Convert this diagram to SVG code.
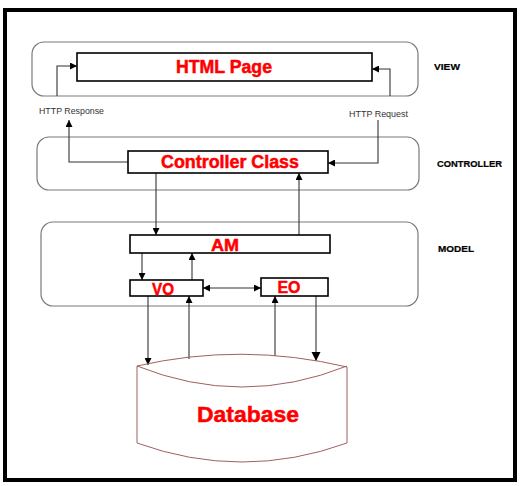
<svg xmlns="http://www.w3.org/2000/svg" width="521" height="486" viewBox="0 0 521 486">
<style>
.layer{fill:#fff;stroke:#7a7a7a;stroke-width:1.2}
.box{fill:#fff;stroke:#000;stroke-width:1.6}
.red{font-family:"Liberation Sans",Arial,sans-serif;font-weight:bold;fill:#ff0000;stroke:#ff0000;stroke-width:0.5;text-anchor:middle}
.lbl{font-family:"Liberation Sans",Arial,sans-serif;font-weight:bold;font-size:9.5px;fill:#000;stroke:#000;stroke-width:0.2}
.small{font-family:"Liberation Sans",Arial,sans-serif;font-size:9px;fill:#333}
.c{fill:none;stroke:#333;stroke-width:1.1}
</style>
<defs>
<marker id="ah" viewBox="0 0 10 10" refX="10" refY="5" markerUnits="userSpaceOnUse" markerWidth="7" markerHeight="7" orient="auto-start-reverse"><path d="M0,0 L10,5 L0,10 z" fill="#000"/></marker>
<marker id="ahb" viewBox="0 0 10 10" refX="10" refY="5" markerUnits="userSpaceOnUse" markerWidth="9" markerHeight="11" orient="auto"><path d="M0,0 L10,5 L0,10 z" fill="#000"/></marker>
</defs>
<rect x="5" y="10" width="510" height="470" fill="#fff" stroke="#000" stroke-width="4"/>

<g id="view">
<rect class="layer" x="32" y="42" width="386" height="54" rx="12"/>
<text class="lbl" x="434" y="70" textLength="26" lengthAdjust="spacingAndGlyphs">VIEW</text>
</g>
<g id="controller">
<rect class="layer" x="37" y="137" width="382" height="53" rx="12"/>
<text class="lbl" x="437" y="167" textLength="65" lengthAdjust="spacingAndGlyphs">CONTROLLER</text>
</g>
<g id="model">
<rect class="layer" x="41" y="222" width="377" height="84" rx="12"/>
<text class="lbl" x="438" y="252" textLength="36" lengthAdjust="spacingAndGlyphs">MODEL</text>
</g>

<g id="connectors">
<path class="c" d="M128,162 H69 V120" marker-end="url(#ah)"/>
<path class="c" d="M57,96 V66 H77" marker-end="url(#ah)"/>
<path class="c" d="M390,96 V69 H372" marker-end="url(#ah)"/>
<path class="c" d="M378,120 V163 H328" marker-end="url(#ah)"/>
<path class="c" d="M156,173 V235" marker-end="url(#ah)"/>
<path class="c" d="M299,235 V173" marker-end="url(#ah)"/>
<path class="c" d="M142,253 V280" marker-end="url(#ah)"/>
<path class="c" d="M192,280 V253" marker-end="url(#ah)"/>
<path class="c" d="M203,288 H261" marker-start="url(#ah)" marker-end="url(#ah)"/>
<path class="c" d="M148,296 V365" marker-end="url(#ah)"/>
<path class="c" d="M189,359 V296" marker-end="url(#ah)"/>
<path class="c" d="M275,356 V296" marker-end="url(#ah)"/>
<path class="c" d="M316,296 V361" marker-end="url(#ahb)"/>
</g>

<g id="http-labels">
<text class="small" x="39" y="114" textLength="65" lengthAdjust="spacingAndGlyphs">HTTP Response</text>
<text class="small" x="349" y="117" textLength="59" lengthAdjust="spacingAndGlyphs">HTTP Request</text>
</g>

<g id="html-page">
<rect class="box" x="77" y="53" width="295" height="28"/>
<text class="red" x="224" y="73" font-size="17.5" textLength="96" lengthAdjust="spacingAndGlyphs">HTML Page</text>
</g>
<g id="controller-class">
<rect class="box" x="128" y="151" width="200" height="22"/>
<text class="red" x="230" y="168" font-size="17.5" textLength="138" lengthAdjust="spacingAndGlyphs">Controller Class</text>
</g>
<g id="am">
<rect class="box" x="130" y="235" width="200" height="18"/>
<text class="red" x="225" y="251" font-size="16.5" textLength="28" lengthAdjust="spacingAndGlyphs">AM</text>
</g>
<g id="vo">
<rect class="box" x="130" y="280" width="73" height="16"/>
<text class="red" x="163" y="295" font-size="17" textLength="22" lengthAdjust="spacingAndGlyphs">VO</text>
</g>
<g id="eo">
<rect class="box" x="261" y="278" width="67" height="18"/>
<text class="red" x="289" y="293" font-size="17" textLength="23" lengthAdjust="spacingAndGlyphs">EO</text>
</g>
<g id="database">
<path d="M137,366 Q242,342 347,367 M137,366 Q242,408 347,366 M137,366 V443 Q242,481 347,443 V367" fill="none" stroke="#a06060" stroke-width="1"/>
<text class="red" x="248" y="422" font-size="22" textLength="102" lengthAdjust="spacingAndGlyphs">Database</text>
</g>
</svg>
